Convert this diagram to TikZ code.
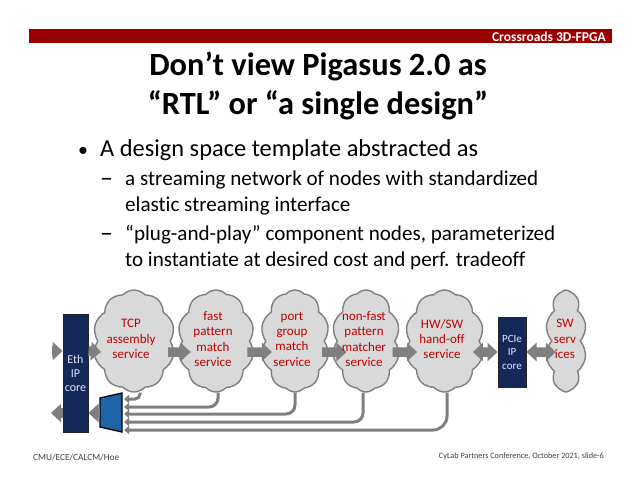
\documentclass[tikz,border=0pt]{standalone}
\usepackage{fontspec}
\setmainfont[Ligatures=NoCommon]{Carlito}
\usetikzlibrary{arrows.meta,shapes.symbols}

\definecolor{barred}{HTML}{990000}
\definecolor{svcred}{HTML}{C00000}
\definecolor{ipnavy}{HTML}{14285A}
\definecolor{muxblue}{HTML}{1F64A8}
\definecolor{linegray}{HTML}{7F7F7F}
\definecolor{cloudgray}{HTML}{D9D9D9}

\tikzset{
  svccloud/.style={cloud, cloud ignores aspect, cloud puffs=10, cloud puff arc=95, draw=linegray,
    fill=cloudgray, line width=1.4pt, inner sep=0pt, minimum height=102pt, minimum width=#1},
  svctext/.style={text=svcred, align=center, font=\fontsize{13}{15.3}\selectfont, inner sep=0pt},
  ipcore/.style={draw=black!85, fill=ipnavy, line width=1pt, text=white!90!blue, align=center, inner sep=0pt},
  flow/.style={linegray, line width=9.5pt, -{Triangle[length=10pt,width=18pt]}},
  flowboth/.style={linegray, line width=9.5pt, {Triangle[length=10pt,width=18pt]}-{Triangle[length=10pt,width=18pt]}},
  back/.style={linegray, line width=3pt, rounded corners=9pt, -{Triangle[length=5pt,width=8pt]}},
  headline/.style={anchor=base west, inner sep=0pt, font=\fontsize{24.4}{29}\selectfont},
  subline/.style={anchor=base west, inner sep=0pt, font=\fontsize{21.1}{26}\selectfont}
}

\begin{document}
\begin{tikzpicture}[x=1pt, y=-1pt]
\useasboundingbox (0,0) rectangle (638,493);

%%%%%%%%%%%%%%%%%%%%%%%%%%%%%%%
\fill[barred] (29,29) rectangle (612,43);
\node [left, text=white, inner sep=0pt, font=\fontsize{13.5}{14}\selectfont\bfseries] (bar) at (606,37) {Crossroads 3D-FPGA};

\node [font=\fontsize{32.4}{39}\selectfont\bfseries, align=center, inner sep=0pt] (title) at (318,86)
  {Don’t view Pigasus 2.0 as\\“RTL” or “a single design”};

\node [headline] (bullet) at (78,156) {\fontsize{20}{20}\selectfont •};
\node [headline] (head) at (100,156) {A design space template abstracted as};
\node [subline, font=\fontsize{26}{26}\selectfont] (dasha) at (100,186) {–};
\node [subline] (subaone) at (125,185) {a streaming network of nodes with standardized};
\node [subline] (subatwo) at (125,211) {elastic streaming interface};
\node [subline, font=\fontsize{26}{26}\selectfont] (dashb) at (100,241) {–};
\node [subline] (subbone) at (125,240) {“plug-and-play” component nodes, parameterized};
\node [subline] (subbtwo) at (125,266) {to instantiate at desired cost and perf. tradeoff};

%%%%%%%%%%%%%%%%%%%%%%%%%%%%%%%
\node [svccloud=82pt] (tcp) at (134,341) {};
\node [svccloud=77pt] (fast) at (216,341) {};
\node [svccloud=69pt] (port) at (295,341) {};
\node [svccloud=68pt] (nonfast) at (366,341) {};
\node [svccloud=79pt] (hw) at (444.5,341) {};
\node [svccloud=41pt] (sw) at (566,341) {};

\node [ipcore, minimum width=25pt, minimum height=118pt, font=\fontsize{12}{14}\selectfont] (eth) at (75.5,373) {Eth\\IP\\core};
\node [ipcore, minimum width=28pt, minimum height=70pt, font=\fontsize{11}{13.5}\selectfont] (pcie) at (512,352) {PCIe\\IP\\core};

\coordinate (netin) at (52,351);
\coordinate (netout) at (51,413);
\draw[fill=muxblue, draw=black, line width=1.3pt] (100,398) -- (122,393) -- (122,432) -- (100,427) -- cycle;
\coordinate (mux) at (100,413);
\coordinate (muxa) at (124,399);
\coordinate (muxb) at (124,407);
\coordinate (muxc) at (124,414);
\coordinate (muxd) at (124,422);
\coordinate (muxe) at (124,430);

%%%%%%%%%%%%%%%%%%%%%%%%%%%%%%%
\draw[back, rounded corners=5pt] (tcp.south -| 140,391) -- (140,399) -- (muxa);
\draw[back] (fast.south -| 218,391) -- (218,407) -- (muxb);
\draw[back] (port.south -| 295,391) -- (295,414) -- (muxc);
\draw[back] (nonfast.south -| 363,391) -- (363,422) -- (muxd);
\draw[back, rounded corners=14pt] (hw.south -| 447,391) -- (447,430) -- (muxe);

\draw[flow] (netin) -- (eth.west |- netin);
\draw[flow] (eth.east |- netin) -- ([shift={(4,11)}]tcp.west);
\draw[flow] ([shift={(-3,11)}]tcp.east) -- ([shift={(9,11)}]fast.west);
\draw[flow] ([shift={(-3,11)}]fast.east) -- ([shift={(7,11)}]port.west);
\draw[flow] ([shift={(-3,11)}]port.east) -- ([shift={(10,11)}]nonfast.west);
\draw[flow] ([shift={(-3,11)}]nonfast.east) -- ([shift={(8,11)}]hw.west);
\draw[flowboth] ([shift={(-7,11)}]hw.east) -- (pcie.west);
\draw[flowboth] (pcie.east) -- ([shift={(5,11)}]sw.west);
\draw[flow] (mux) -- (eth.east |- mux);
\draw[flow] (eth.west |- mux) -- (netout);

%%%%%%%%%%%%%%%%%%%%%%%%%%%%%%%
\node [svctext] (tcptext) at (131,339) {TCP\\assembly\\service};
\node [svctext] (fasttext) at (213,339) {fast\\pattern\\match\\service};
\node [svctext] (porttext) at (292,339) {port\\group\\match\\service};
\node [svctext] (nonfasttext) at (364,339) {non-fast\\pattern\\matcher\\service};
\node [svctext] (hwtext) at (442,339) {HW/SW\\hand-off\\service};
\node [svctext] (swtext) at (565,339) {SW\\serv\\ices};

%%%%%%%%%%%%%%%%%%%%%%%%%%%%%%%
\node [right, inner sep=0pt, text=black!75, font=\fontsize{9.3}{11}\selectfont] (footl) at (33,457) {CMU/ECE/CALCM/Hoe};
\node [left, inner sep=0pt, text=black!75, font=\fontsize{8.2}{11}\selectfont] (footr) at (604,456) {CyLab Partners Conference, October 2021, slide-6};
\end{tikzpicture}
\end{document}
